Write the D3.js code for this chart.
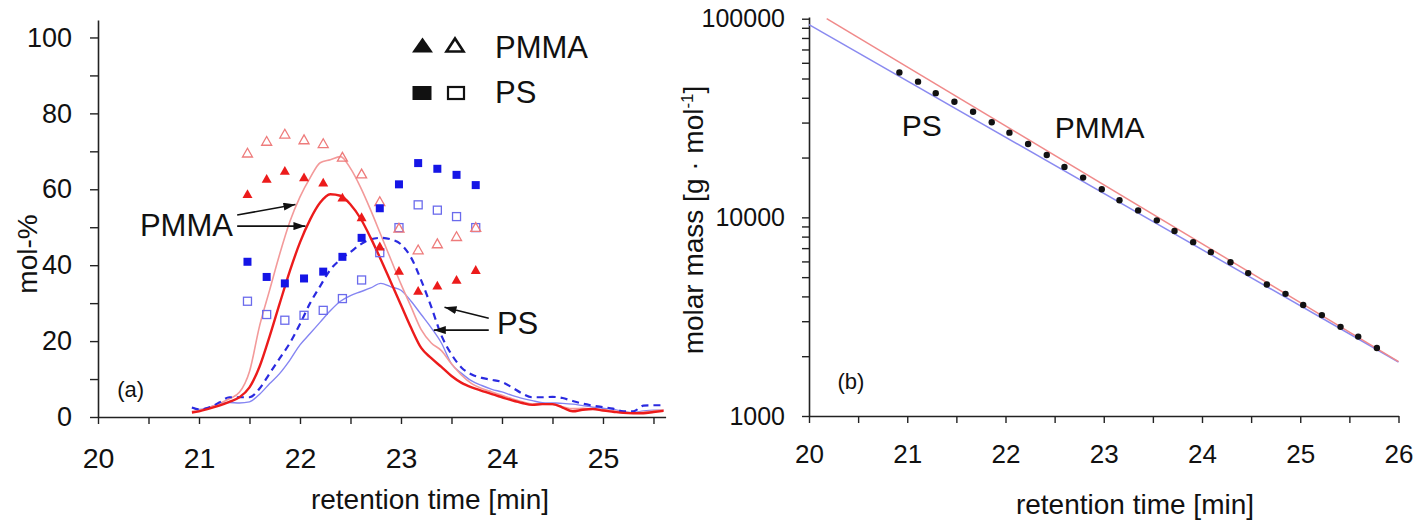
<!DOCTYPE html>
<html><head><meta charset="utf-8">
<script src="https://cdn.jsdelivr.net/npm/d3@7/dist/d3.min.js"></script>
<style>
html,body{margin:0;padding:0;background:#fff;}
svg{display:block;font-family:"Liberation Sans",Arial,sans-serif;}
</style></head>
<body>
<svg id="chart" width="1427" height="527"></svg>
<script>
// ---------- Panel (a) data ----------
const curveTimes = [20.93,21.0,21.1,21.2,21.3,21.4,21.5,21.6,21.7,21.8,21.9,22.0,22.1,22.2,22.3,22.4,22.5,22.6,22.7,22.8,22.9,23.0,23.1,23.2,23.3,23.4,23.5,23.6,23.7,23.8,23.9,24.0,24.1,24.2,24.3,24.4,24.5,24.6,24.7,24.8,24.9,25.0,25.1,25.2,25.3,25.4,25.5,25.6];
const pmmaCurveBold = [1.2,1.5,2.2,3.0,4.0,5.2,7.8,13.3,21.3,30.0,38.5,46.0,52.0,56.5,58.7,58.3,56.0,52.3,47.2,41.5,35.5,29.5,23.5,18.2,15.5,13.2,10.8,9.0,7.8,6.9,6.0,5.2,4.4,3.7,3.2,3.4,3.4,2.5,1.5,1.9,2.1,1.7,1.4,1.1,1.0,1.0,1.3,1.6];
const pmmaCurveThin = [1.5,1.7,2.5,3.5,4.8,6.5,12.0,24.0,33.5,43.0,51.5,58.0,63.0,67.0,67.8,68.6,65.5,60.5,54.5,48.0,41.5,35.0,29.0,23.0,19.5,17.5,14.0,11.0,8.8,7.5,6.6,5.7,4.8,4.0,3.4,3.4,3.3,2.7,2.2,2.3,2.1,1.9,1.6,1.3,1.1,1.3,1.6,1.9];
const psCurveDashed = [2.5,2.0,2.5,3.8,5.2,5.2,5.2,7.5,11.5,15.5,19.5,24.5,30.0,34.5,38.8,41.5,43.5,45.5,46.8,47.2,46.8,45.5,42.0,36.0,29.0,21.5,16.5,13.0,11.2,10.3,9.8,9.2,7.8,6.2,5.2,5.2,5.3,5.0,4.2,3.5,3.0,2.6,2.2,1.5,1.5,3.0,3.1,3.1];
const psCurveThin = [2.5,2.0,2.6,3.5,3.8,3.7,4.0,6.0,8.8,11.5,15.0,19.0,22.0,25.0,28.0,30.5,32.0,33.0,34.0,35.2,34.3,33.4,30.5,27.0,23.5,19.5,14.0,11.5,9.5,8.3,7.3,6.6,5.7,4.9,4.3,3.8,3.7,3.6,3.4,3.0,2.6,2.3,2.0,1.5,1.2,1.6,1.8,1.8];

const markerTimes = [21.48,21.67,21.85,22.04,22.23,22.42,22.61,22.79,22.98,23.17,23.36,23.55,23.74];
const pmmaFilled = [58.7,62.7,64.8,63.1,61.7,57.8,52.6,44.9,38.5,33.2,34.6,36.1,38.7];
const pmmaOpen   = [69.5,72.6,74.5,73.0,72.0,68.4,64.0,56.7,49.7,44.0,45.6,47.5,49.9];
const psFilled   = [40.9,36.9,35.2,36.5,38.3,42.2,47.2,55.0,61.3,66.9,65.4,63.8,61.1];
const psOpen     = [30.5,27.0,25.5,26.8,28.1,31.2,36.1,43.3,49.9,55.9,54.5,52.8,49.9];

const xTicksA = [20,20.5,21,21.5,22,22.5,23,23.5,24,24.5,25,25.5];
const yTicksA = [0,10,20,30,40,50,60,70,80,90,100];
const yLabelsA = [0,20,40,60,80,100];

// ---------- Panel (b) data ----------
const calTimes = [20.92,21.11,21.29,21.48,21.67,21.86,22.04,22.23,22.42,22.60,22.79,22.98,23.16,23.35,23.54,23.72,23.91,24.09,24.29,24.47,24.66,24.85,25.03,25.22,25.41,25.59,25.78];
const calMass  = [53600,48200,42200,38200,34000,30100,26700,23400,20600,17950,15850,13840,12190,10840,9660,8530,7500,6680,5940,5240,4590,4120,3620,3220,2810,2510,2200];
const psCalTimes = [20.0,26.0];
const psCalMass  = [93300,1870];
const pmmaCalTimes = [20.18,26.0];
const pmmaCalMass  = [100000,1880];
const xTicksB = [20,20.5,21,21.5,22,22.5,23,23.5,24,24.5,25,25.5,26];
const yLabelsB = [1000,10000,100000];

// ---------- colours ----------
const RED = "#ec1b1b", LRED = "#f39a9a", BLUE = "#1515e6", LBLUE = "#8585f2", DBLUE = "#2a2ae0";

const svg = d3.select("#chart");
const defs = svg.append("defs");
defs.append("marker").attr("id","arrow").attr("viewBox","0 0 12 8").attr("refX",12).attr("refY",4)
  .attr("markerWidth",12).attr("markerHeight",8).attr("markerUnits","userSpaceOnUse").attr("orient","auto")
  .append("path").attr("d","M0,0L12,4L0,8Z").attr("fill","#111");

// ---------- Panel (a) ----------
const xA = d3.scaleLinear().domain([20,25.62]).range([98,665.6]);
const yA = d3.scaleLinear().domain([0,104.6]).range([417,20]);
const gA = svg.append("g");

const axA_y = gA.append("g").attr("transform","translate(98,0)")
  .call(d3.axisLeft(yA).tickValues(yTicksA).tickSize(8).tickSizeOuter(0).tickPadding(18)
     .tickFormat(d => yLabelsA.includes(d) ? d : ""));
const axA_x = gA.append("g").attr("transform","translate(0,417)")
  .call(d3.axisBottom(xA).tickValues(xTicksA).tickSize(7).tickSizeOuter(0).tickPadding(24)
     .tickFormat(d => Number.isInteger(d) ? d : ""));
[axA_y, axA_x].forEach(a => {
  a.select(".domain").attr("stroke","#222").attr("stroke-width",1.6);
  a.selectAll(".tick line").attr("stroke","#222").attr("stroke-width",1.4);
  a.selectAll("text").attr("fill","#111").attr("font-family","Liberation Sans, Arial, sans-serif");
});
axA_y.selectAll("text").attr("font-size",27);
axA_x.selectAll("text").attr("font-size",28.5);

gA.append("text").attr("transform","translate(37,254) rotate(-90)").attr("text-anchor","middle")
  .attr("font-size",28).attr("fill","#111").text("mol-%");
gA.append("text").attr("x",430).attr("y",509).attr("text-anchor","middle")
  .attr("font-size",28).attr("fill","#111").text("retention time [min]");
gA.append("text").attr("x",xA(20.19)).attr("y",yA(5.4)).attr("font-size",22).attr("fill","#111").text("(a)");

const lineA = d3.line().x(d => xA(d[0])).y(d => yA(d[1])).curve(d3.curveMonotoneX);
const series = [
  {vals: psCurveThin, color: LBLUE, w: 1.4, dash: null},
  {vals: pmmaCurveThin, color: LRED, w: 1.6, dash: null},
  {vals: psCurveDashed, color: DBLUE, w: 2.2, dash: "7,5"},
  {vals: pmmaCurveBold, color: RED, w: 2.4, dash: null}
];
series.forEach(s => {
  gA.append("path").datum(curveTimes.map((t,i) => [t, s.vals[i]]))
    .attr("d", lineA).attr("fill","none").attr("stroke", s.color)
    .attr("stroke-width", s.w).attr("stroke-dasharray", s.dash);
});

const triPath = "M0,-5L5,3.8L-5,3.8Z";
function drawTri(vals, filled, color){
  gA.selectAll(null).data(markerTimes.map((t,i)=>[t,vals[i]])).enter().append("path")
    .attr("d", triPath).attr("transform", d => `translate(${xA(d[0])},${yA(d[1])})`)
    .attr("fill", filled ? color : "none").attr("stroke", filled ? "none" : color).attr("stroke-width",1.3);
}
function drawSq(vals, filled, color){
  gA.selectAll(null).data(markerTimes.map((t,i)=>[t,vals[i]])).enter().append("rect")
    .attr("x", d => xA(d[0]) - 4).attr("y", d => yA(d[1]) - 4).attr("width",8).attr("height",8)
    .attr("fill", filled ? color : "none").attr("stroke", filled ? "none" : color).attr("stroke-width",1.3);
}
drawSq(psOpen, false, "#6b6bec");
drawTri(pmmaOpen, false, "#ee7b7b");
drawSq(psFilled, true, BLUE);
drawTri(pmmaFilled, true, RED);

// annotations (data coordinates)
const annA = [
  {from:[21.378,53.2], to:[21.955,56.0]},
  {from:[21.378,50.3], to:[22.054,50.3]},
  {from:[23.869,26.0], to:[23.431,28.9]},
  {from:[23.869,22.9], to:[23.325,22.9]}
];
annA.forEach(a => gA.append("line").attr("x1",xA(a.from[0])).attr("y1",yA(a.from[1]))
  .attr("x2",xA(a.to[0])).attr("y2",yA(a.to[1])).attr("stroke","#111").attr("stroke-width",1.6)
  .attr("marker-end","url(#arrow)"));
gA.append("text").attr("x",xA(20.415)).attr("y",yA(47.6)).attr("font-size",31).attr("fill","#111").text("PMMA");
gA.append("text").attr("x",xA(23.95)).attr("y",yA(22.0)).attr("font-size",31).attr("fill","#111").text("PS");

// legend
const lg = gA.append("g");
lg.append("path").attr("d","M-10.5,7.5L0,-7.5L10.5,7.5Z").attr("transform","translate(422.5,45)").attr("fill","#111");
lg.append("path").attr("d","M-8.5,6.5L0,-6.5L8.5,6.5Z").attr("transform","translate(455,45)").attr("fill","none").attr("stroke","#111").attr("stroke-width",2.6);
lg.append("rect").attr("x",412.5).attr("y",86).attr("width",19).attr("height",14).attr("fill","#111");
lg.append("rect").attr("x",448).attr("y",87).attr("width",16).attr("height",12).attr("fill","none").attr("stroke","#111").attr("stroke-width",2.2);
lg.append("text").attr("x",495).attr("y",58).attr("font-size",31).attr("fill","#111").text("PMMA");
lg.append("text").attr("x",495).attr("y",103).attr("font-size",31).attr("fill","#111").text("PS");

// ---------- Panel (b) ----------
const xB = d3.scaleLinear().domain([20,26]).range([809,1398.5]);
const yB = d3.scaleLog().domain([1000,102000]).range([416,17]);
const gB = svg.append("g");

const minorB = [];
[1000,10000].forEach(dec => { for (let k=1;k<10;k++) minorB.push(dec*k); });
minorB.push(100000);
const axB_y = gB.append("g").attr("transform","translate(809,0)")
  .call(d3.axisLeft(yB).tickValues(minorB).tickSize(7).tickSizeOuter(0).tickPadding(17)
     .tickFormat(d => yLabelsB.includes(d) ? d : ""));
const axB_x = gB.append("g").attr("transform","translate(0,416)")
  .call(d3.axisBottom(xB).tickValues(xTicksB).tickSize(7).tickSizeOuter(0).tickPadding(22)
     .tickFormat(d => Number.isInteger(d) ? d : ""));
[axB_y, axB_x].forEach(a => {
  a.select(".domain").attr("stroke","#222").attr("stroke-width",1.6);
  a.selectAll(".tick line").attr("stroke","#222").attr("stroke-width",1.4);
  a.selectAll("text").attr("fill","#111").attr("font-family","Liberation Sans, Arial, sans-serif");
});
axB_y.selectAll("text").attr("font-size",25);
axB_x.selectAll("text").attr("font-size",26);

const yLab = gB.append("text").attr("transform","translate(703,220) rotate(-90)").attr("text-anchor","middle")
  .attr("font-size",28).attr("fill","#111");
yLab.append("tspan").text("molar mass [g · mol");
yLab.append("tspan").attr("font-size",17).attr("dy",-10).text("-1");
yLab.append("tspan").attr("dy",10).text("]");
gB.append("text").attr("x",1135).attr("y",514).attr("text-anchor","middle")
  .attr("font-size",28).attr("fill","#111").text("retention time [min]");
gB.append("text").attr("x",xB(20.29)).attr("y",yB(1370)).attr("font-size",22).attr("fill","#111").text("(b)");

const lineB = d3.line().x(d => xB(d[0])).y(d => yB(d[1]));
gB.append("path").datum(psCalTimes.map((t,i)=>[t,psCalMass[i]])).attr("d",lineB)
  .attr("fill","none").attr("stroke","#8a8af0").attr("stroke-width",1.5);
gB.append("path").datum(pmmaCalTimes.map((t,i)=>[t,pmmaCalMass[i]])).attr("d",lineB)
  .attr("fill","none").attr("stroke","#f08a8a").attr("stroke-width",1.5);
gB.selectAll(null).data(calTimes.map((t,i)=>[t,calMass[i]])).enter().append("circle")
  .attr("cx", d => xB(d[0])).attr("cy", d => yB(d[1])).attr("r",3.2).attr("fill","#111");
gB.append("text").attr("x",xB(20.945)).attr("y",yB(25650)).attr("font-size",30).attr("fill","#111").text("PS");
gB.append("text").attr("x",xB(22.5)).attr("y",yB(25060)).attr("font-size",30).attr("fill","#111").text("PMMA");
</script>
</body></html>
